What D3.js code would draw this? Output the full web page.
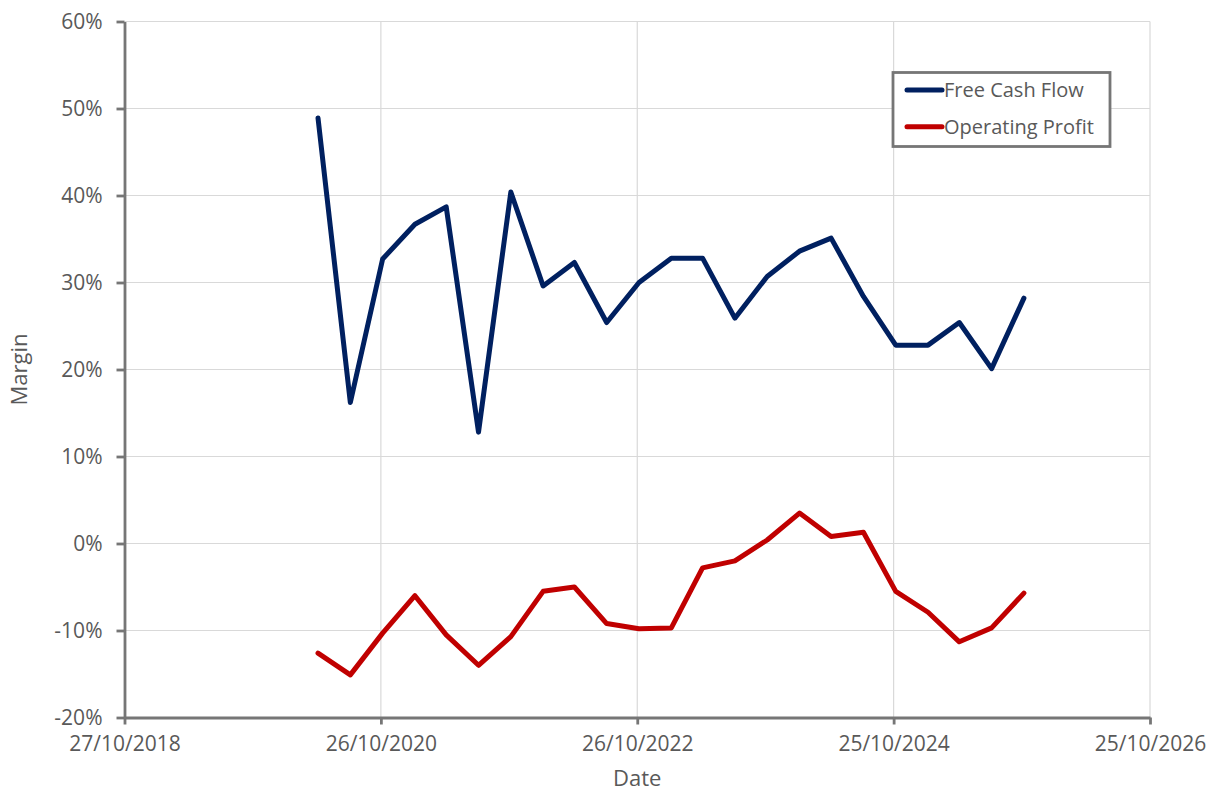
<!DOCTYPE html>
<html>
<head>
<meta charset="utf-8">
<script src="https://cdn.jsdelivr.net/npm/d3@7"></script>
<style>
  html, body { margin: 0; padding: 0; background: #ffffff; }
  svg { display: block; font-family: "Open Sans", "Noto Sans", sans-serif; }
</style>
</head>
<body>
<svg id="chart" width="1221" height="798"></svg>
<script>
// ---- Data ----
const dates = ["2020-04-30","2020-07-31","2020-10-31","2021-01-31","2021-04-30","2021-07-31",
  "2021-10-31","2022-01-31","2022-04-30","2022-07-31","2022-10-31","2023-01-31","2023-04-30",
  "2023-07-31","2023-10-31","2024-01-31","2024-04-30","2024-07-31","2024-10-31","2025-01-31",
  "2025-04-30","2025-07-31","2025-10-31"];
const freeCashFlow = [48.9,16.2,32.7,36.7,38.7,12.8,40.4,29.6,32.3,25.4,30.0,32.8,32.8,
  25.9,30.7,33.6,35.1,28.4,22.8,22.8,25.4,20.1,28.2];
const operatingProfit = [-12.6,-15.1,-10.3,-6.0,-10.5,-14.0,-10.7,-5.5,-5.0,-9.2,-9.8,-9.7,-2.8,
  -2.0,0.4,3.5,0.8,1.3,-5.5,-7.9,-11.3,-9.7,-5.7];
const xTickDates = ["2018-10-27","2020-10-26","2022-10-26","2024-10-25","2026-10-25"];
const yTicks = [-20,-10,0,10,20,30,40,50,60];
const seriesNames = ["Free Cash Flow","Operating Profit"];
const seriesColors = ["#002060","#c00000"];

// ---- Layout ----
const plot = { left: 124.5, right: 1150, top: 21.5, bottom: 717.5 };
const parse = d3.utcParse("%Y-%m-%d");
const fmtDate = d3.utcFormat("%d/%m/%Y");

const svg = d3.select("#chart");

const x = d3.scaleUtc()
  .domain([parse(xTickDates[0]), parse(xTickDates[xTickDates.length - 1])])
  .range([plot.left, plot.right]);
const y = d3.scaleLinear()
  .domain([-20, 60])
  .range([plot.bottom, plot.top]);

const axisColor = "#767676";
const gridColor = "#d9d9d9";
const textColor = "#595959";

// gridlines
const grid = svg.append("g");
grid.selectAll("line.h").data(yTicks.filter(v => v !== -20)).join("line")
  .attr("x1", plot.left).attr("x2", plot.right)
  .attr("y1", d => y(d)).attr("y2", d => y(d))
  .attr("stroke", gridColor).attr("stroke-width", 1.2);
grid.selectAll("line.v").data(xTickDates.slice(1)).join("line")
  .attr("x1", d => x(parse(d))).attr("x2", d => x(parse(d)))
  .attr("y1", plot.top).attr("y2", plot.bottom)
  .attr("stroke", gridColor).attr("stroke-width", 1.2);

// axes
const yAxis = d3.axisLeft(y).tickValues(yTicks).tickFormat(d => d + "%")
  .tickSize(8).tickSizeOuter(0).tickPadding(14);
const gy = svg.append("g").attr("transform", `translate(${plot.left},0)`).call(yAxis);
const xAxis = d3.axisBottom(x).tickValues(xTickDates.map(parse)).tickFormat(fmtDate)
  .tickSize(7).tickSizeOuter(0).tickPadding(12);
const gx = svg.append("g").attr("transform", `translate(0,${plot.bottom})`).call(xAxis);

[gx, gy].forEach(g => {
  g.select(".domain").attr("stroke", axisColor).attr("stroke-width", 2.8);
  g.selectAll(".tick line").attr("stroke", axisColor).attr("stroke-width", 2.8);
  g.selectAll(".tick text").attr("fill", textColor)
    .style("font-size", "21px").style("font-family", '"Open Sans", sans-serif');
});
gx.selectAll(".tick text").attr("dy", "0.71em");

// axis titles
svg.append("text")
  .attr("x", (plot.left + plot.right) / 2).attr("y", 786)
  .attr("text-anchor", "middle").attr("fill", textColor)
  .style("font-size", "22px").text("Date");
svg.append("text")
  .attr("transform", `translate(27,${(plot.top + plot.bottom) / 2}) rotate(-90)`)
  .attr("text-anchor", "middle").attr("fill", textColor)
  .style("font-size", "22px").text("Margin");

// lines
const seriesData = [freeCashFlow, operatingProfit];
const line = d3.line()
  .x((d, i) => x(parse(dates[i])))
  .y(d => y(d));
svg.append("g").selectAll("path").data(seriesData).join("path")
  .attr("d", d => line(d))
  .attr("fill", "none")
  .attr("stroke", (d, i) => seriesColors[i])
  .attr("stroke-width", 5)
  .attr("stroke-linejoin", "round")
  .attr("stroke-linecap", "round");

// legend
const lg = svg.append("g");
lg.append("rect")
  .attr("x", 893).attr("y", 72.5).attr("width", 217).attr("height", 74)
  .attr("fill", "#ffffff").attr("stroke", axisColor).attr("stroke-width", 2.8);
const items = lg.selectAll("g.item").data(seriesNames).join("g")
  .attr("transform", (d, i) => `translate(0,${90 + i * 36.7})`);
items.append("line")
  .attr("x1", 907).attr("x2", 942).attr("y1", 0).attr("y2", 0)
  .attr("stroke", (d, i) => seriesColors[i]).attr("stroke-width", 5)
  .attr("stroke-linecap", "round");
items.append("text")
  .attr("x", 944).attr("y", 0).attr("dy", "0.35em")
  .attr("fill", textColor).style("font-size", "20px")
  .text(d => d);
</script>
</body>
</html>
